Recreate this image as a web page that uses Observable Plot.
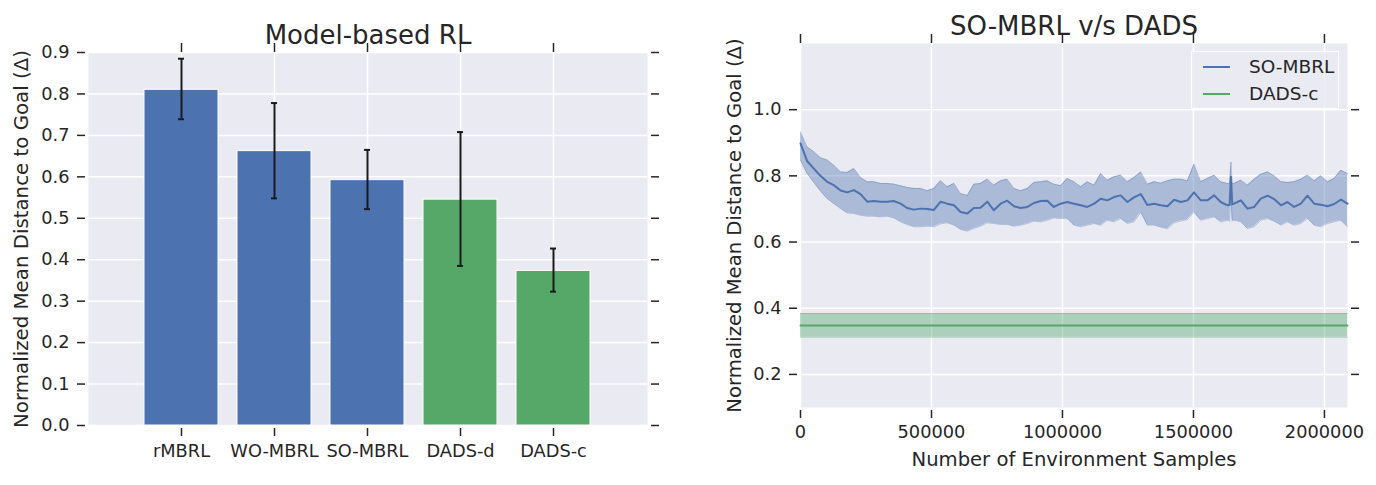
<!DOCTYPE html>
<html>
<head>
<meta charset="utf-8">
<script src="https://cdn.jsdelivr.net/npm/d3@7"></script>
<script src="https://cdn.jsdelivr.net/npm/@observablehq/plot@0.6"></script>
<style>
  html, body { margin: 0; padding: 0; background: #fff; }
  #wrap { position: relative; width: 1376px; height: 485px; font-family: "DejaVu Sans", sans-serif; color: #262626; }
  #left { position: absolute; left: 0; top: 0; }
  #right { position: absolute; left: 690px; top: 0; }
  svg { overflow: visible; }
  #legend { position: absolute; left: 1191px; top: 51px; width: 148px; height: 58px;
            background: rgba(234,234,242,0.85); border: 1.5px solid rgba(255,255,255,0.9); box-sizing: border-box; }
  .li { position: absolute; left: 0; height: 22px; width: 148px; }
  .li .sw { position: absolute; left: 11px; top: 10px; width: 27px; height: 0; border-top: 2px solid; }
  .li .tx { position: absolute; left: 57px; top: 0; font-size: 18.5px; line-height: 22px; white-space: nowrap; }
</style>
</head>
<body>
<div id="wrap">
  <div id="left"></div>
  <div id="right"></div>
  <div id="legend">
    <div class="li" style="top:4px"><div class="sw" style="border-color:#4C72B0"></div><div class="tx">SO-MBRL</div></div>
    <div class="li" style="top:31px"><div class="sw" style="border-color:#55A868"></div><div class="tx">DADS-c</div></div>
  </div>
</div>
<script>
// ---------- Left chart data ----------
const categories = ["rMBRL", "WO-MBRL", "SO-MBRL", "DADS-d", "DADS-c"];
const groups = ["MBRL", "MBRL", "MBRL", "DADS", "DADS"];
const meanDist = [0.810, 0.662, 0.592, 0.545, 0.373];
const errLow = [0.739, 0.548, 0.522, 0.385, 0.323];
const errHigh = [0.885, 0.778, 0.665, 0.708, 0.427];
const leftYTicks = [0, 0.1, 0.2, 0.3, 0.4, 0.5, 0.6, 0.7, 0.8, 0.9];

// ---------- Right chart data ----------
const samples = [0, 25000, 51000, 76000, 102000, 127000, 153000, 178000, 204000, 229000,
  255000, 280000, 306000, 331000, 356000, 382000, 407000, 433000, 458000, 484000,
  509000, 535000, 560000, 586000, 611000, 637000, 662000, 687000, 713000, 738000,
  764000, 789000, 815000, 840000, 866000, 891000, 917000, 942000, 967000, 993000, 1018000,
  1044000, 1070000, 1095000, 1121000, 1146000, 1171000, 1197000, 1222000, 1248000, 1273000,
  1299000, 1324000, 1350000, 1375000, 1401000, 1426000, 1452000, 1477000, 1502000, 1528000,
  1553000, 1579000, 1604000, 1630000, 1638000, 1643000, 1648000, 1655000, 1681000, 1706000,
  1732000, 1757000, 1783000, 1808000, 1834000, 1859000, 1884000, 1910000, 1935000, 1961000,
  1986000, 2012000, 2037000, 2063000, 2088000];
const soMean = [0.898, 0.845, 0.822, 0.800, 0.782, 0.772, 0.756, 0.750, 0.757, 0.745,
  0.722, 0.724, 0.722, 0.722, 0.724, 0.716, 0.703, 0.698, 0.701, 0.700,
  0.697, 0.722, 0.716, 0.711, 0.691, 0.686, 0.703, 0.704, 0.722, 0.696,
  0.716, 0.725, 0.708, 0.703, 0.706, 0.718, 0.724, 0.725, 0.706, 0.716, 0.721,
  0.716, 0.711, 0.706, 0.716, 0.731, 0.726, 0.736, 0.741, 0.721, 0.735,
  0.745, 0.712, 0.716, 0.711, 0.708, 0.728, 0.721, 0.726, 0.750, 0.726,
  0.726, 0.741, 0.721, 0.711, 0.712, 0.797, 0.714, 0.716, 0.726, 0.701,
  0.706, 0.731, 0.740, 0.730, 0.711, 0.721, 0.706, 0.716, 0.740, 0.716,
  0.713, 0.708, 0.715, 0.728, 0.716];
const soHigh = [0.933, 0.888, 0.873, 0.855, 0.848, 0.832, 0.812, 0.810, 0.822, 0.795,
  0.782, 0.782, 0.777, 0.777, 0.775, 0.770, 0.765, 0.762, 0.762, 0.755,
  0.762, 0.785, 0.767, 0.777, 0.746, 0.741, 0.775, 0.777, 0.790, 0.772,
  0.785, 0.790, 0.762, 0.755, 0.762, 0.780, 0.782, 0.785, 0.775, 0.770, 0.792,
  0.782, 0.767, 0.782, 0.772, 0.807, 0.787, 0.797, 0.802, 0.782, 0.795,
  0.812, 0.775, 0.782, 0.778, 0.785, 0.790, 0.790, 0.785, 0.835, 0.782,
  0.792, 0.802, 0.782, 0.777, 0.776, 0.842, 0.776, 0.777, 0.787, 0.772,
  0.790, 0.805, 0.812, 0.800, 0.782, 0.780, 0.782, 0.790, 0.802, 0.785,
  0.800, 0.782, 0.792, 0.817, 0.807];
const soLow = [0.848, 0.807, 0.780, 0.754, 0.731, 0.716, 0.701, 0.688, 0.686, 0.681,
  0.678, 0.678, 0.676, 0.678, 0.673, 0.661, 0.653, 0.646, 0.646, 0.648,
  0.646, 0.655, 0.658, 0.651, 0.638, 0.633, 0.641, 0.648, 0.658, 0.656,
  0.653, 0.653, 0.648, 0.651, 0.656, 0.663, 0.661, 0.666, 0.673, 0.671, 0.671,
  0.651, 0.646, 0.651, 0.656, 0.651, 0.666, 0.661, 0.671, 0.656, 0.661,
  0.690, 0.651, 0.651, 0.645, 0.640, 0.658, 0.664, 0.668, 0.690, 0.666,
  0.671, 0.676, 0.661, 0.666, 0.663, 0.746, 0.664, 0.666, 0.661, 0.641,
  0.646, 0.666, 0.671, 0.663, 0.651, 0.661, 0.651, 0.656, 0.671, 0.651,
  0.646, 0.656, 0.661, 0.666, 0.646];
const dadsMean = 0.348;
const dadsLow = 0.312;
const dadsHigh = 0.384;
const rightYTicks = [0.2, 0.4, 0.6, 0.8, 1.0];
const rightXTicks = [0, 500000, 1000000, 1500000, 2000000];

// ---------- Build tables ----------
const bars = categories.map((c, i) => ({cat: c, group: groups[i], mean: meanDist[i], lo: errLow[i], hi: errHigh[i]}));
const so = samples.map((s, i) => ({x: s, mean: soMean[i], lo: soLow[i], hi: soHigh[i]}));
const dads = [samples[0], samples[samples.length - 1]].map(s => ({x: s, mean: dadsMean, lo: dadsLow, hi: dadsHigh}));

const BG = "#EAEAF2", BLUE = "#4C72B0", GREEN = "#55A868", INK = "#262626";
const baseStyle = {fontFamily: "DejaVu Sans", fontSize: "17.8px", color: INK, background: "transparent", overflow: "visible"};
const blank = () => "";
const YLABEL = "Normalized Mean Distance to Goal (Δ)";

const left = Plot.plot({
  width: 680, height: 485,
  marginLeft: 88, marginRight: 33, marginTop: 52, marginBottom: 60,
  style: baseStyle,
  x: {domain: categories, paddingInner: 0.2, paddingOuter: 0.6, align: 0.5},
  y: {domain: [0, 0.9]},
  color: {domain: ["MBRL", "DADS"], range: [BLUE, GREEN]},
  marks: [
    Plot.frame({fill: BG, stroke: "none"}),
    Plot.gridY(leftYTicks, {stroke: "white", strokeOpacity: 1, strokeWidth: 1.5}),
    Plot.gridX(categories, {stroke: "white", strokeOpacity: 1, strokeWidth: 1.5}),
    Plot.barY(bars, {x: "cat", y: "mean", fill: "group", stroke: "white", strokeWidth: 1}),
    Plot.ruleX(bars, {x: "cat", y1: "lo", y2: "hi", stroke: "#1a1a1a", strokeWidth: 2}),
    Plot.tickY(bars, {x: "cat", y: "lo", stroke: "#1a1a1a", strokeWidth: 2, insetLeft: 34, insetRight: 34}),
    Plot.tickY(bars, {x: "cat", y: "hi", stroke: "#1a1a1a", strokeWidth: 2, insetLeft: 34, insetRight: 34}),
    Plot.axisY(leftYTicks, {tickFormat: d3.format(".1f"), tickSize: 8, tickPadding: 8, dx: -3, strokeWidth: 1.5, label: null}),
    Plot.axisY(leftYTicks, {anchor: "right", tickFormat: blank, tickSize: 8, dx: 3, strokeWidth: 1.5, label: null}),
    Plot.axisX({tickSize: 8, tickPadding: 8, dy: 3, strokeWidth: 1.5, label: null}),
    Plot.axisX({anchor: "top", tickFormat: blank, tickSize: 9, dy: -1, strokeWidth: 1.5, label: null}),
    Plot.text(["Model-based RL"], {text: d => d, frameAnchor: "top", dy: -9, lineAnchor: "bottom", fontSize: 26, fill: INK}),
    Plot.text([YLABEL], {text: d => d, frameAnchor: "left", textAnchor: "middle", rotate: -90, dx: -67, fontSize: 19.8, fill: INK})
  ]
});
document.getElementById("left").appendChild(left);

const right = Plot.plot({
  width: 686, height: 485,
  marginLeft: 110, marginRight: 29, marginTop: 43, marginBottom: 78,
  style: baseStyle,
  x: {domain: [samples[0], samples[samples.length - 1]]},
  y: {domain: [0.1, 1.2]},
  marks: [
    Plot.frame({fill: BG, stroke: "none"}),
    Plot.gridY(rightYTicks, {stroke: "white", strokeOpacity: 1, strokeWidth: 1.5}),
    Plot.gridX(rightXTicks, {stroke: "white", strokeOpacity: 1, strokeWidth: 1.5}),
    Plot.areaY(so, {x: "x", y1: "lo", y2: "hi", fill: BLUE, fillOpacity: 0.4}),
    Plot.lineY(so, {x: "x", y: "lo", stroke: BLUE, strokeOpacity: 0.35, strokeWidth: 1}),
    Plot.lineY(so, {x: "x", y: "hi", stroke: BLUE, strokeOpacity: 0.35, strokeWidth: 1}),
    Plot.lineY(so, {x: "x", y: "mean", stroke: BLUE, strokeWidth: 2}),
    Plot.areaY(dads, {x: "x", y1: "lo", y2: "hi", fill: GREEN, fillOpacity: 0.4}),
    Plot.lineY(dads, {x: "x", y: "lo", stroke: GREEN, strokeOpacity: 0.35, strokeWidth: 1}),
    Plot.lineY(dads, {x: "x", y: "hi", stroke: GREEN, strokeOpacity: 0.35, strokeWidth: 1}),
    Plot.lineY(dads, {x: "x", y: "mean", stroke: GREEN, strokeWidth: 2}),
    Plot.axisY(rightYTicks, {tickFormat: d3.format(".1f"), tickSize: 8, tickPadding: 8, dx: -3, strokeWidth: 1.5, label: null}),
    Plot.axisY(rightYTicks, {anchor: "right", tickFormat: blank, tickSize: 8, dx: 3, strokeWidth: 1.5, label: null}),
    Plot.axisX(rightXTicks, {tickFormat: d3.format("d"), tickSize: 8, tickPadding: 7, dy: 3, strokeWidth: 1.5, label: null}),
    Plot.axisX(rightXTicks, {anchor: "top", tickFormat: blank, tickSize: 9, dy: -1, strokeWidth: 1.5, label: null}),
    Plot.text(["SO-MBRL v/s DADS"], {text: d => d, frameAnchor: "top", dy: -9, lineAnchor: "bottom", fontSize: 26, fill: INK}),
    Plot.text([YLABEL], {text: d => d, frameAnchor: "left", textAnchor: "middle", rotate: -90, dx: -66, fontSize: 19.6, fill: INK}),
    Plot.text(["Number of Environment Samples"], {text: d => d, frameAnchor: "bottom", dy: 58, lineAnchor: "bottom", fontSize: 19.6, fill: INK})
  ]
});
document.getElementById("right").appendChild(right);
</script>
</body>
</html>
